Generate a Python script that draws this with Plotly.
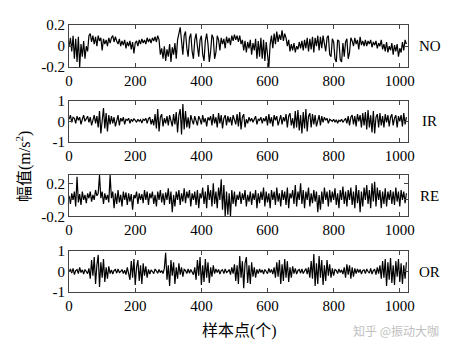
import numpy as np
import plotly.graph_objects as go

# sample indices (every 4th sample of a 1024-point record)
samples = list(range(0, 1024, 4))

no_vals = [
    0.0, 0.08, -0.05, 0.1, -0.12, 0.07, -0.15, 0.09, -0.2, 0.02, -0.1, 0.05, -0.12, 0.0, -0.05, 0.1,
    0.12, 0.04, 0.1, 0.02, 0.09, 0.0, 0.1, 0.05, 0.08, -0.04, 0.07, 0.02, 0.06, 0.0, 0.08, 0.03,
    0.08, 0.1, 0.04, 0.09, 0.05, 0.02, 0.07, 0.0, 0.05, 0.01, 0.06, -0.02, 0.04, 0.0, 0.05, -0.03,
    0.04, -0.07, 0.03, 0.05, 0.0, 0.06, 0.02, 0.07, 0.03, 0.06, 0.02, 0.08, 0.04, 0.07, 0.03, 0.08,
    0.05, 0.09, 0.04, 0.1, 0.06, -0.08, -0.02, -0.12, 0.0, -0.14, -0.03, -0.1, 0.02, -0.15, -0.01, -0.08,
    0.03, -0.12, 0.06, 0.12, 0.18, 0.05, -0.08, 0.1, 0.14, -0.02, -0.1, 0.08, 0.12, -0.05, -0.12, 0.06,
    0.12, 0.0, -0.1, 0.06, 0.1, -0.08, -0.14, 0.05, 0.12, 0.02, -0.15, -0.05, 0.11, 0.08, -0.12, -0.06,
    0.1, 0.06, -0.04, 0.08, 0.02, 0.07, -0.02, 0.09, 0.03, 0.08, 0.01, 0.1, 0.05, 0.11, 0.06, 0.1,
    0.04, 0.1, 0.02, 0.06, -0.04, 0.05, -0.06, 0.04, -0.02, 0.06, -0.08, 0.03, -0.04, 0.07, -0.12, 0.05,
    -0.1, 0.08, -0.12, 0.06, -0.14, 0.04, -0.08, -0.2, 0.02, 0.1, -0.02, 0.12, 0.02, 0.14, 0.04, 0.11,
    0.06, 0.15, 0.05, 0.12, 0.08, 0.0, 0.06, -0.05, 0.02, -0.04, 0.03, -0.06, 0.0, -0.03, 0.04, -0.02,
    0.05, -0.04, 0.06, -0.02, 0.08, -0.05, 0.07, -0.03, 0.09, -0.06, 0.08, 0.0, 0.1, -0.04, 0.09, -0.02,
    0.1, 0.02, -0.05, 0.08, 0.1, -0.08, -0.1, 0.07, 0.04, -0.12, -0.15, 0.06, 0.05, -0.13, -0.15, 0.03,
    -0.1, 0.04, 0.07, -0.12, -0.06, 0.08, 0.05, 0.0, 0.08, 0.02, 0.06, -0.03, 0.09, 0.01, 0.05, 0.0,
    0.06, 0.0, 0.05, 0.02, 0.06, -0.01, 0.04, 0.01, 0.05, -0.02, 0.03, 0.0, 0.06, -0.03, 0.02, -0.05,
    0.04, -0.06, 0.0, -0.04, 0.03, -0.08, 0.01, -0.05, 0.02, -0.1, -0.02, -0.06, 0.04, -0.04, 0.06, 0.02,
]

ir_vals = [
    0.1, 0.3, -0.05, 0.2, 0.15, -0.1, 0.25, 0.05, 0.2, -0.15, 0.1, 0.3, 0.0, 0.15, 0.25, -0.05,
    0.2, -0.2, 0.1, 0.3, -0.1, 0.25, -0.3, 0.5, -0.6, 0.2, 0.65, -0.35, 0.4, -0.5, 0.3, -0.15,
    0.25, -0.1, 0.2, -0.25, 0.1, 0.3, -0.2, 0.15, 0.0, 0.2, -0.15, 0.1, 0.05, 0.15, -0.1, 0.1,
    0.0, 0.12, 0.05, -0.05, 0.1, 0.0, 0.08, -0.08, 0.1, 0.05, 0.15, -0.1, 0.12, 0.2, -0.15, 0.1,
    -0.2, 0.35, -0.35, 0.6, -0.5, 0.2, 0.35, -0.25, 0.15, -0.1, 0.25, -0.2, 0.3, 0.0, -0.25, 0.35,
    -0.15, 0.45, -0.55, 0.3, 0.6, -0.65, 0.85, -0.4, 0.5, -0.3, 0.2, -0.35, 0.3, 0.05, -0.15, 0.25,
    0.0, -0.2, 0.25, 0.1, -0.15, 0.3, -0.05, 0.15, -0.25, 0.2, 0.05, 0.25, -0.2, 0.35, -0.1, 0.2,
    -0.3, 0.4, -0.1, 0.3, -0.35, 0.15, 0.3, -0.2, 0.25, -0.05, 0.2, -0.2, 0.3, 0.0, -0.15, 0.35,
    -0.25, 0.45, -0.4, 0.2, 0.35, -0.3, 0.1, -0.1, 0.2, 0.0, 0.15, -0.05, 0.1, 0.25, -0.15, 0.1,
    0.05, 0.2, -0.1, 0.15, 0.0, 0.25, -0.2, 0.35, -0.1, 0.2, -0.25, 0.3, 0.05, 0.25, -0.2, 0.15,
    0.3, -0.15, 0.2, 0.0, 0.35, -0.3, 0.25, 0.4, -0.2, 0.15, -0.35, 0.5, -0.3, 0.55, -0.45, 0.3,
    -0.6, 0.45, -0.35, 0.6, -0.5, 0.25, 0.4, -0.3, 0.35, -0.15, 0.3, -0.25, 0.1, 0.3, -0.2, 0.25,
    -0.05, 0.2, 0.05, 0.15, -0.1, 0.1, 0.05, 0.0, 0.1, -0.05, 0.08, -0.1, 0.05, 0.0, 0.1, -0.05,
    0.05, 0.15, -0.1, 0.25, -0.2, 0.2, 0.3, -0.15, 0.25, -0.25, 0.35, 0.0, 0.3, -0.3, 0.4, -0.2,
    0.45, -0.4, 0.55, -0.3, 0.3, -0.55, 0.5, -0.6, 0.2, 0.35, -0.3, 0.4, -0.2, 0.25, -0.3, 0.35,
    -0.05, 0.3, -0.25, 0.2, 0.35, -0.2, 0.15, 0.3, -0.3, 0.25, 0.0, 0.3, -0.25, 0.4, -0.15, 0.2,
]

re_vals = [
    0.05, -0.05, 0.08, 0.0, 0.1, -0.08, 0.28, -0.03, 0.07, -0.06, 0.1, 0.0, 0.06, -0.04, 0.08, 0.02,
    0.1, -0.02, 0.06, 0.0, 0.12, 0.05, 0.08, 0.3, 0.02, 0.1, -0.05, 0.08, 0.0, 0.06, -0.03, 0.3,
    0.02, 0.1, -0.1, 0.08, -0.05, 0.12, -0.03, 0.06, -0.08, 0.1, 0.0, 0.09, -0.06, 0.08, -0.02, 0.07,
    -0.12, 0.06, 0.02, 0.1, -0.05, 0.08, 0.0, 0.07, -0.04, 0.12, 0.0, 0.1, -0.06, 0.08, 0.02, 0.1,
    -0.05, 0.06, -0.08, 0.1, 0.0, 0.12, -0.03, 0.08, -0.06, 0.09, 0.0, 0.14, -0.05, 0.1, -0.15, 0.06,
    -0.08, 0.1, 0.0, 0.12, -0.06, 0.08, -0.02, 0.14, -0.04, 0.1, 0.02, 0.12, -0.08, 0.08, 0.0, 0.1,
    -0.06, 0.12, -0.1, 0.08, 0.02, 0.15, -0.05, 0.1, -0.1, 0.18, 0.0, 0.12, -0.08, 0.2, -0.05, 0.1,
    -0.1, 0.15, 0.0, 0.25, -0.12, 0.18, -0.2, 0.1, -0.18, 0.08, -0.2, 0.12, -0.05, 0.1, -0.08, 0.06,
    0.0, 0.1, -0.05, 0.08, 0.0, 0.12, -0.08, 0.06, -0.02, 0.1, -0.06, 0.08, 0.0, 0.12, -0.1, 0.08,
    -0.04, 0.1, 0.0, 0.15, -0.08, 0.1, -0.03, 0.08, -0.1, 0.12, 0.0, 0.1, -0.06, 0.15, -0.02, 0.08,
    -0.08, 0.12, 0.0, 0.1, -0.06, 0.15, -0.1, 0.08, 0.02, 0.12, -0.05, 0.18, -0.08, 0.1, 0.0, 0.2,
    -0.05, 0.12, -0.1, 0.1, 0.0, 0.15, -0.08, 0.08, -0.04, 0.12, -0.02, 0.1, -0.15, 0.06, -0.12, 0.1,
    -0.05, 0.15, 0.0, 0.1, -0.08, 0.12, -0.03, 0.1, 0.0, 0.14, -0.06, 0.08, -0.1, 0.12, 0.0, 0.16,
    -0.05, 0.1, -0.08, 0.12, 0.0, 0.15, -0.06, 0.1, -0.1, 0.18, -0.04, 0.12, -0.15, 0.1, -0.08, 0.15,
    0.0, 0.18, -0.05, 0.12, -0.1, 0.2, -0.02, 0.22, -0.08, 0.15, 0.0, 0.12, -0.1, 0.1, -0.05, 0.14,
    -0.08, 0.1, 0.0, 0.12, -0.05, 0.1, -0.06, 0.15, -0.02, 0.1, -0.08, 0.12, 0.0, 0.1, -0.04, 0.08,
]

or_vals = [
    0.0, 0.12, -0.08, 0.15, -0.15, 0.05, 0.1, -0.1, 0.2, -0.05, 0.08, -0.12, 0.1, 0.0, -0.1, 0.15,
    -0.35, 0.55, -0.2, 0.7, -0.6, 0.3, 0.8, -0.75, 0.45, -0.3, 0.6, -0.5, 0.2, -0.35, 0.25, -0.1,
    0.08, -0.12, 0.05, 0.1, -0.08, 0.12, -0.05, 0.0, 0.1, -0.1, 0.06, -0.15, 0.2, -0.1, -0.4, 0.5,
    -0.3, 0.6, -0.65, 0.2, 0.55, -0.45, 0.3, -0.6, 0.4, -0.2, 0.25, -0.3, 0.1, -0.12, 0.08, 0.0,
    -0.1, 0.12, 0.0, -0.08, 0.1, -0.05, 0.05, -0.1, 0.15, 0.9, -0.4, 0.3, -0.7, 0.55, -0.2, 0.45,
    -0.6, 0.2, -0.35, 0.4, -0.15, 0.2, -0.25, 0.1, 0.05, -0.1, 0.12, -0.08, 0.1, -0.05, -0.15, 0.2,
    -0.4, 0.55, -0.2, 0.7, -0.65, 0.3, -0.5, 0.6, -0.3, 0.45, -0.55, 0.2, -0.25, 0.3, -0.1, 0.12,
    -0.05, 0.1, -0.12, 0.05, 0.08, -0.1, 0.12, -0.05, 0.0, 0.1, -0.15, 0.2, -0.1, 0.35, -0.45, 0.3,
    -0.6, 0.75, -0.3, 0.5, -0.8, 0.4, 0.7, -0.55, 0.3, -0.6, 0.45, -0.25, 0.2, -0.3, 0.1, -0.1,
    0.12, -0.05, 0.08, -0.12, 0.1, 0.0, -0.1, 0.15, -0.05, 0.1, -0.12, 0.2, -0.3, 0.45, -0.25, 0.55,
    -0.6, 0.35, -0.45, 0.6, -0.3, 0.5, -0.5, 0.2, -0.3, 0.25, -0.1, 0.15, -0.12, 0.05, 0.1, -0.08,
    0.12, -0.1, 0.05, 0.15, -0.12, 0.2, -0.3, 0.5, -0.35, 0.85, -0.7, 0.4, -0.6, 0.75, -0.3, 0.55,
    -0.65, 0.3, -0.45, 0.55, -0.2, 0.35, -0.3, 0.15, -0.2, 0.1, 0.05, -0.1, 0.12, -0.05, 0.08, -0.12,
    0.2, -0.3, 0.35, -0.15, 0.3, -0.35, 0.2, -0.25, 0.15, -0.1, 0.12, -0.05, 0.1, -0.12, 0.05, 0.08,
    -0.1, 0.12, 0.0, -0.08, 0.15, -0.12, 0.05, 0.1, -0.15, 0.2, -0.1, 0.3, -0.35, 0.5, -0.3, 0.6,
    -0.7, 0.45, -0.4, 0.65, -0.55, 0.3, -0.65, 0.5, -0.25, 0.6, -0.5, 0.4, -0.6, 0.3, -0.35, 0.45,
]

series_names = ["NO", "IR", "RE", "OR"]
series_vals = [no_vals, ir_vals, re_vals, or_vals]
y_ranges = [[-0.2, 0.2], [-1, 1], [-0.2, 0.3], [-1, 1]]
y_tickvals = [[-0.2, 0, 0.2], [-1, 0, 1], [-0.2, 0, 0.2], [-1, 0, 1]]
y_ticktext = [["-0.2", "0", "0.2"], ["-1", "0", "1"], ["-0.2", "0", "0.2"], ["-1", "0", "1"]]
x_tickvals = [0, 200, 400, 600, 800, 1000]

W, H = 458, 354
x_dom = [66.7 / W, 414.0 / W]
panel_px = [(18.0, 62.0), (97.3, 140.0), (175.0, 218.3), (254.3, 297.7)]

SERIF = "Liberation Serif"
CJK = "Liberation Serif, Noto Sans CJK SC"

fig = go.Figure()
layout = dict(
    width=W, height=H,
    margin=dict(l=0, r=0, t=0, b=0),
    paper_bgcolor="white", plot_bgcolor="white",
    showlegend=False,
    font=dict(family=SERIF, size=15, color="black"),
)

annotations = []
for i, (name, vals) in enumerate(zip(series_names, series_vals)):
    k = "" if i == 0 else str(i + 1)
    fig.add_trace(go.Scatter(
        x=samples, y=vals, mode="lines",
        line=dict(color="black", width=1.2),
        xaxis="x" + k, yaxis="y" + k, name=name,
    ))
    top, bot = panel_px[i]
    axis_common = dict(
        showline=True, linecolor="#444444", linewidth=1, mirror="ticks",
        ticks="inside", ticklen=4, tickcolor="#444444",
        showgrid=False, zeroline=False,
        tickfont=dict(family=SERIF, size=15, color="black"),
    )
    layout["xaxis" + k] = dict(
        domain=x_dom, anchor="y" + k, range=[0, 1025],
        tickvals=x_tickvals, **axis_common,
    )
    layout["yaxis" + k] = dict(
        domain=[1 - bot / H, 1 - top / H], anchor="x" + k, range=y_ranges[i],
        tickvals=y_tickvals[i], ticktext=y_ticktext[i], **axis_common,
    )
    annotations.append(dict(
        text=name, xref="paper", yref="paper",
        x=436 / W, y=1 - (top + bot) / 2 / H,
        xanchor="center", yanchor="middle", showarrow=False,
        font=dict(family=SERIF, size=15, color="black"),
    ))

annotations.append(dict(
    text="幅值(m/s<sup>2</sup>)", xref="paper", yref="paper",
    x=20 / W, y=1 - 166 / H, textangle=-90,
    xanchor="center", yanchor="middle", showarrow=False,
    font=dict(family=CJK, size=16, color="black"),
))
annotations.append(dict(
    text="样本点(个)", xref="paper", yref="paper",
    x=241 / W, y=1 - 338 / H,
    xanchor="center", yanchor="middle", showarrow=False,
    font=dict(family=CJK, size=16, color="black"),
))
annotations.append(dict(
    text="知乎 @振动大咖", xref="paper", yref="paper",
    x=402 / W, y=1 - 338 / H,
    xanchor="center", yanchor="middle", showarrow=False,
    font=dict(family="Noto Sans CJK SC", size=12, color="#c0c0c0"),
))
layout["annotations"] = annotations

fig.update_layout(**layout)
fig.write_html("out.html")
